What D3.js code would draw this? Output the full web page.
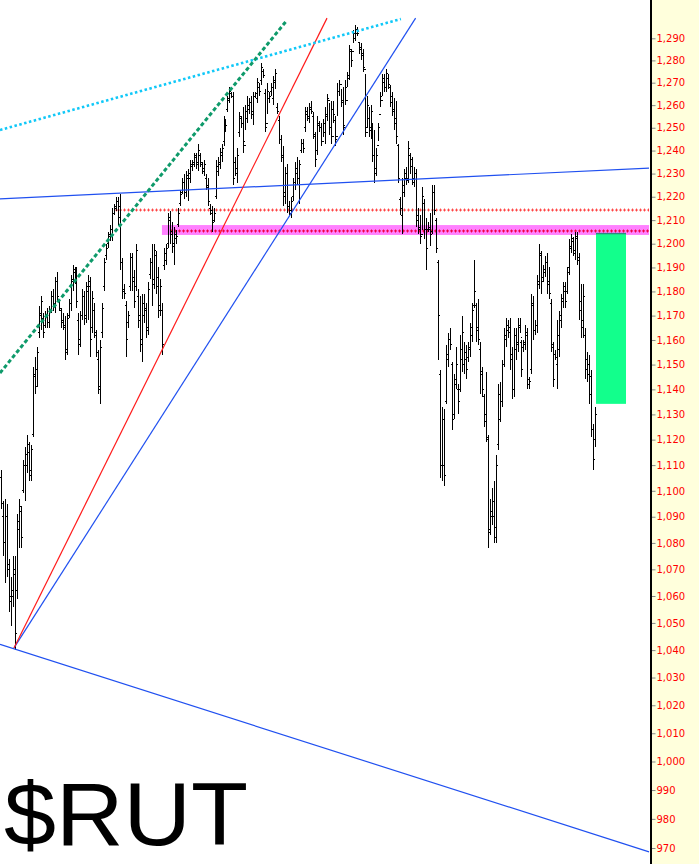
<!DOCTYPE html>
<html><head><meta charset="utf-8">
<script src="https://cdn.jsdelivr.net/npm/d3@7"></script>
<style>html,body{margin:0;padding:0;background:#fff;overflow:hidden}</style>
</head><body>
<svg id="c" width="699" height="864"></svg>
<script>
// ---- data: daily OHLC bars ----
const highs = [1108,1096,1097,1095,1074,1067,1075,1075,1091,1097,
1094,1112,1117,1122,1119,1118,1149,1153,1157,1174,
1178,1171,1172,1173,1174,1180,1181,1186,1188,1177,
1173,1171,1170,1171,1177,1187,1191,1190,1190,1171,
1172,1181,1180,1184,1187,1186,1180,1175,1164,1156,
1160,1175,1194,1200,1205,1208,1215,1217,1220,1220,
1221,1194,1183,1176,1172,1196,1196,1189,1200,1181,
1178,1179,1179,1175,1184,1194,1200,1200,1197,1190,
1185,1175,1198,1200,1213,1214,1209,1207,1206,1215,
1223,1228,1230,1231,1232,1236,1236,1239,1239,1243,
1239,1235,1236,1230,1228,1217,1216,1215,1236,1237,
1241,1243,1255,1254,1264,1268,1266,1266,1237,1241,
1257,1255,1259,1260,1264,1263,1264,1266,1266,1272,
1270,1279,1276,1267,1270,1266,1270,1273,1276,1261,
1255,1247,1242,1233,1234,1218,1220,1228,1235,1237,
1236,1245,1245,1259,1259,1261,1262,1257,1248,1255,
1253,1252,1254,1259,1265,1261,1262,1262,1255,1270,
1271,1267,1268,1271,1275,1287,1285,1294,1296,1295,
1288,1288,1285,1274,1264,1259,1260,1252,1249,1241,
1252,1266,1274,1274,1276,1274,1269,1266,1263,1262,
1243,1220,1228,1232,1233,1244,1239,1237,1233,1232,
1215,1212,1224,1219,1211,1209,1213,1225,1225,1211,
1193,1148,1133,1132,1158,1163,1165,1151,1146,1157,
1142,1162,1170,1159,1158,1159,1167,1175,1193,1175,
1177,1159,1149,1138,1147,1122,1097,1101,1104,1114,
1142,1143,1152,1165,1169,1168,1169,1157,1165,1165,
1169,1169,1160,1160,1166,1165,1145,1179,1178,1168,
1187,1200,1197,1191,1195,1196,1190,1177,1159,1156,
1168,1172,1179,1184,1184,1190,1202,1204,1203,1205,
1205,1196,1183,1183,1165,1155,1154,1148,1126,1133];
const lows = [1093,1075,1065,1067,1054,1049,1056,1040,1059,1078,
1078,1099,1096,1107,1104,1104,1121,1138,1141,1161,
1164,1161,1165,1165,1165,1171,1172,1171,1176,1172,
1165,1164,1152,1154,1169,1172,1180,1183,1173,1154,
1157,1168,1166,1167,1168,1153,1163,1161,1153,1138,
1134,1161,1180,1193,1198,1201,1201,1212,1214,1208,
1189,1177,1177,1153,1165,1180,1180,1173,1180,1165,
1155,1151,1167,1161,1162,1185,1174,1181,1179,1169,
1170,1154,1189,1191,1198,1200,1196,1191,1200,1207,
1216,1221,1219,1220,1218,1226,1231,1233,1232,1231,
1233,1230,1229,1223,1216,1212,1205,1209,1219,1229,
1232,1235,1242,1248,1257,1261,1263,1225,1229,1226,
1246,1250,1239,1249,1252,1256,1254,1251,1263,1261,
1264,1269,1272,1248,1256,1261,1264,1260,1267,1256,
1243,1235,1216,1217,1213,1212,1211,1218,1223,1225,
1217,1239,1239,1248,1253,1252,1256,1245,1233,1238,
1248,1242,1246,1243,1253,1247,1243,1252,1242,1255,
1264,1259,1247,1260,1268,1271,1277,1288,1289,1291,
1283,1280,1275,1246,1250,1246,1245,1235,1226,1229,
1244,1259,1264,1266,1266,1267,1259,1255,1249,1243,
1226,1212,1204,1220,1225,1226,1230,1225,1224,1207,
1204,1200,1206,1202,1189,1205,1199,1204,1212,1196,
1152,1105,1104,1102,1134,1149,1156,1124,1128,1140,
1130,1139,1147,1146,1144,1151,1153,1159,1173,1159,
1158,1138,1137,1125,1119,1078,1083,1087,1080,1080,
1116,1127,1133,1149,1157,1161,1148,1136,1137,1152,
1155,1163,1145,1155,1156,1140,1140,1146,1160,1162,
1163,1181,1179,1184,1186,1179,1177,1155,1141,1152,
1140,1153,1165,1173,1173,1179,1187,1196,1195,1193,
1191,1168,1161,1161,1144,1143,1134,1121,1108,1117];
const opens = [1105,1090,1080,1090,1070,1060,1060,1070,1062,1085,
1092,1100,1110,1110,1115,1108,1122,1145,1148,1163,
1170,1169,1166,1170,1167,1172,1178,1174,1184,1176,
1172,1167,1166,1156,1170,1175,1184,1188,1186,1168,
1160,1170,1178,1170,1180,1182,1165,1172,1162,1152,
1140,1163,1182,1195,1200,1204,1203,1213,1215,1218,
1216,1192,1181,1174,1167,1182,1194,1186,1182,1178,
1170,1160,1170,1172,1164,1187,1192,1183,1195,1186,
1174,1172,1191,1193,1200,1210,1205,1200,1202,1208,
1217,1222,1226,1222,1228,1228,1233,1234,1237,1235,
1238,1234,1232,1228,1224,1215,1213,1210,1220,1231,
1234,1238,1244,1252,1258,1263,1265,1264,1235,1230,
1248,1254,1252,1242,1254,1258,1261,1256,1264,1263,
1268,1271,1275,1265,1252,1263,1266,1263,1270,1259,
1253,1245,1238,1222,1230,1216,1213,1220,1226,1230,
1228,1240,1243,1250,1256,1254,1258,1255,1246,1240,
1251,1250,1244,1248,1255,1262,1250,1246,1253,1246,
1266,1269,1262,1250,1262,1272,1284,1284,1290,1292,
1288,1286,1282,1276,1248,1254,1250,1250,1238,1230,
1242,1256,1262,1270,1268,1272,1268,1264,1258,1254,
1242,1219,1212,1222,1228,1228,1238,1236,1226,1230,
1212,1206,1204,1217,1206,1206,1206,1205,1222,1210,
1192,1146,1110,1110,1135,1152,1160,1150,1130,1142,
1140,1140,1152,1150,1152,1153,1156,1162,1174,1174,
1165,1156,1146,1137,1130,1120,1085,1090,1090,1086,
1118,1128,1135,1150,1160,1164,1165,1154,1140,1156,
1158,1165,1159,1157,1158,1162,1142,1148,1174,1164,
1166,1183,1195,1186,1188,1192,1184,1175,1157,1154,
1150,1156,1168,1176,1180,1180,1190,1198,1202,1196,
1202,1194,1176,1168,1162,1152,1150,1145,1124,1120];
const closes = [1095,1080,1090,1072,1058,1062,1068,1046,1088,1094,
1082,1110,1114,1118,1106,1116,1146,1141,1155,1171,
1176,1163,1170,1167,1172,1178,1175,1184,1178,1173,
1168,1165,1155,1169,1175,1185,1189,1185,1176,1158,
1170,1178,1169,1182,1184,1160,1177,1163,1155,1141,
1157,1173,1192,1198,1203,1206,1213,1216,1218,1211,
1192,1180,1179,1160,1170,1194,1184,1176,1197,1168,
1158,1175,1173,1165,1181,1192,1185,1197,1182,1172,
1182,1158,1196,1198,1211,1204,1199,1204,1203,1213,
1221,1226,1222,1229,1230,1234,1235,1238,1234,1240,
1235,1231,1234,1225,1218,1214,1209,1213,1233,1235,
1239,1241,1252,1251,1262,1266,1264,1228,1232,1238,
1255,1252,1244,1257,1260,1261,1257,1264,1265,1270,
1266,1277,1273,1250,1266,1264,1268,1271,1274,1257,
1245,1237,1220,1230,1216,1214,1218,1226,1232,1228,
1234,1243,1241,1257,1255,1259,1257,1247,1236,1252,
1250,1244,1252,1256,1263,1250,1258,1256,1245,1266,
1269,1261,1251,1268,1273,1285,1280,1292,1294,1292,
1285,1283,1277,1250,1260,1249,1257,1238,1232,1238,
1250,1264,1272,1268,1274,1269,1261,1257,1252,1246,
1228,1215,1225,1230,1227,1241,1233,1228,1230,1210,
1207,1203,1220,1206,1198,1207,1204,1222,1214,1198,
1170,1110,1128,1106,1154,1160,1158,1128,1144,1150,
1135,1156,1163,1155,1148,1157,1165,1172,1180,1164,
1160,1147,1140,1127,1121,1084,1092,1096,1082,1110,
1138,1135,1150,1162,1166,1163,1152,1140,1162,1159,
1166,1161,1148,1159,1163,1144,1143,1175,1164,1166,
1184,1196,1184,1189,1192,1183,1179,1158,1144,1153,
1162,1170,1177,1182,1176,1188,1199,1201,1197,1203,
1193,1172,1165,1178,1148,1146,1138,1124,1112,1130];

const tickValues = d3.range(970, 1291, 10);

// annotations: [startBar, startPrice, endBar, endPrice]
const blueLines = [[-0.5,1042.1,326.2,968.7],[6.54,1040.8,208.7,1299.2],[-0.5,1219.1,326.2,1232.4]];
const redLine = [6.54,1040.8,164.1,1299.2];
const cyanLine = [-0.5,1249.0,201.3,1298.8];
const greenLine = [-0.5,1146.6,144.0,1298.3];
const redDotted = [57.4,1214.3,326.2,1214.3];
const magentaBand = [81.0,1207.9,326.2,1203.7];
const plusLine = [85.1,1205.4,326.2,1205.4];
const targetBox = [299.5,1204.5,314.6,1134.2];
const title = "$RUT";

// ---- drawing ----
const svg = d3.select("#c");
const W = 699, H = 864, plotR = 650;
const x = d3.scaleLinear().domain([0, highs.length - 1]).range([1, 595]);
const y = d3.scaleLog().domain([970, 1290]).range([848, 38.3]);

svg.append("rect").attr("x",0).attr("y",0).attr("width",W).attr("height",H).attr("fill","#fff");
svg.append("rect").attr("x",plotR).attr("y",0).attr("width",W-plotR).attr("height",H).attr("fill","#FFFFDC");

svg.append("defs").append("clipPath").attr("id","clip")
  .append("rect").attr("x",0).attr("y",0).attr("width",plotR).attr("height",H);
const g = svg.append("g").attr("clip-path","url(#clip)");

// magenta band
g.append("rect")
  .attr("x", x(magentaBand[0])).attr("y", y(magentaBand[1]))
  .attr("width", x(magentaBand[2]) - x(magentaBand[0]))
  .attr("height", y(magentaBand[3]) - y(magentaBand[1]))
  .attr("fill", "#FF80FF");

function plusPattern(seg, color, op){
  g.append("line").attr("x1",x(seg[0])).attr("x2",x(seg[2])).attr("y1",y(seg[1])).attr("y2",y(seg[3]))
    .attr("stroke",color).attr("stroke-width",1).attr("stroke-dasharray","3,1").attr("opacity",op);
  g.append("line").attr("x1",x(seg[0])+1).attr("x2",x(seg[2])).attr("y1",y(seg[1])).attr("y2",y(seg[3]))
    .attr("stroke",color).attr("stroke-width",3).attr("stroke-dasharray","1,3").attr("opacity",op);
}
plusPattern(redDotted, "#FF2020", 0.75);
plusPattern(plusLine, "#F0003C", 1);

// bars
const bars = g.append("g").attr("stroke","#000").attr("stroke-width",1.3).attr("shape-rendering","crispEdges");
highs.forEach((h,i)=>{
  const cx = Math.round(x(i)) + 0.5;
  bars.append("line").attr("x1",cx).attr("x2",cx).attr("y1",y(h)).attr("y2",y(lows[i]));
  bars.append("line").attr("x1",cx-1.2).attr("x2",cx).attr("y1",y(opens[i])).attr("y2",y(opens[i])).attr("stroke-width",1);
  bars.append("line").attr("x1",cx).attr("x2",cx+1.2).attr("y1",y(closes[i])).attr("y2",y(closes[i])).attr("stroke-width",1);
});

function seg(s){ return g.append("line").attr("x1",x(s[0])).attr("y1",y(s[1])).attr("x2",x(s[2])).attr("y2",y(s[3])).attr("fill","none"); }
blueLines.forEach(s=> seg(s).attr("stroke","#2050F0").attr("stroke-width",1.2));
seg(redLine).attr("stroke","#FF1A1A").attr("stroke-width",1.2);
seg(cyanLine).attr("stroke","#10C8F8").attr("stroke-width",2.6).attr("stroke-dasharray","2.5,2.5");
seg(greenLine).attr("stroke","#0E9A6A").attr("stroke-width",3).attr("stroke-dasharray","4,2.5");

// target box
g.append("rect")
  .attr("x", x(targetBox[0])).attr("y", y(targetBox[1]))
  .attr("width", x(targetBox[2]) - x(targetBox[0]))
  .attr("height", y(targetBox[3]) - y(targetBox[1]))
  .attr("fill", "#12FF8C");
g.append("line").attr("x1",x(targetBox[0])).attr("x2",x(targetBox[2]))
  .attr("y1",y(targetBox[1])+0.5).attr("y2",y(targetBox[1])+0.5).attr("stroke","#2E8A82").attr("stroke-width",1.5);

// axis
const axis = d3.axisRight(y).tickValues(tickValues).tickFormat(d3.format(",")).tickSize(4).tickPadding(1);
const ax = svg.append("g").attr("transform",`translate(${plotR+1.5},0)`).call(axis);
ax.select(".domain").remove();
ax.selectAll(".tick line").attr("stroke","#888");
ax.selectAll(".tick text").attr("fill","#FF0000").attr("font-family","'DejaVu Sans', Verdana, sans-serif").attr("font-size","10px");
svg.append("line").attr("x1",plotR+1).attr("x2",plotR+1).attr("y1",0).attr("y2",H).attr("stroke","#000").attr("stroke-width",2);

// title
svg.append("text").attr("x",4).attr("y",845).text(title)
  .attr("font-family","'Liberation Sans', Arial, sans-serif").attr("font-size","89px")
  .attr("textLength",244).attr("lengthAdjust","spacingAndGlyphs").attr("fill","#000");
</script>
</body></html>
